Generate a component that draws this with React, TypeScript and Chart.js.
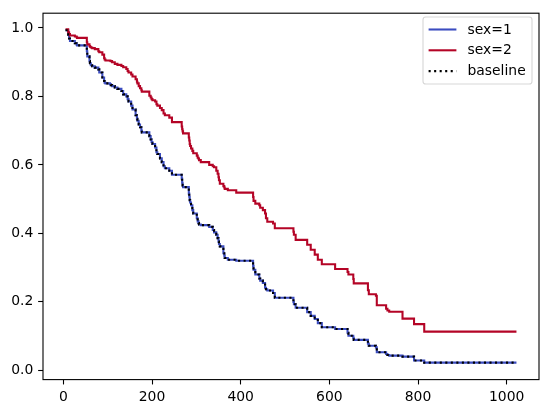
import React, { useEffect, useRef } from 'react';
import { Chart, registerables } from 'chart.js';

Chart.register(...registerables);

// Step times (days)
const times = [
  5, 11, 13, 15, 26, 30, 31, 53, 54, 59, 60, 62, 65, 71, 79, 81, 88, 92, 93, 95,
  105, 107, 110, 116, 122, 131, 135, 142, 145, 147, 153, 156, 163, 166, 167, 170, 173, 176, 177, 194,
  197, 199, 201, 207, 210, 212, 218, 222, 226, 229, 239, 245, 267, 268, 269, 270, 283, 284, 285, 286,
  288, 291, 293, 301, 303, 305, 306, 310, 329, 337, 340, 345, 348, 350, 351, 353, 361, 363, 364, 371,
  390, 428, 429, 433, 442, 444, 450, 455, 457, 460, 473, 477, 519, 520, 524, 550, 558, 567, 574, 583,
  613, 641, 643, 654, 655, 687, 689, 705, 707, 728, 731, 735, 765, 791, 814, 1022,
];

// sex=1 (also the baseline curve)
const sex1 = [
  0.993, 0.980, 0.969, 0.962, 0.955, 0.951, 0.949, 0.932, 0.917, 0.903, 0.897, 0.891, 0.888, 0.884, 0.879, 0.870, 0.855, 0.845, 0.840, 0.838,
  0.836, 0.833, 0.830, 0.826, 0.822, 0.816, 0.806, 0.800, 0.792, 0.785, 0.773, 0.762, 0.745, 0.735, 0.729, 0.718, 0.710, 0.700, 0.695, 0.684,
  0.674, 0.667, 0.661, 0.651, 0.637, 0.632, 0.619, 0.608, 0.596, 0.590, 0.583, 0.571, 0.560, 0.548, 0.540, 0.535, 0.516, 0.507, 0.497, 0.490,
  0.482, 0.468, 0.458, 0.444, 0.435, 0.430, 0.426, 0.424, 0.419, 0.410, 0.403, 0.396, 0.386, 0.376, 0.369, 0.362, 0.342, 0.335, 0.328, 0.323,
  0.320, 0.305, 0.294, 0.280, 0.268, 0.262, 0.255, 0.241, 0.237, 0.233, 0.226, 0.212, 0.200, 0.193, 0.183, 0.170, 0.159, 0.150, 0.138, 0.126,
  0.121, 0.110, 0.101, 0.095, 0.089, 0.078, 0.072, 0.067, 0.053, 0.048, 0.045, 0.043, 0.040, 0.029, 0.0225, 0.0225,
];

// sex=2
const sex2 = [
  0.996, 0.987, 0.982, 0.978, 0.975, 0.973, 0.971, 0.958, 0.952, 0.947, 0.945, 0.943, 0.941, 0.938, 0.932, 0.929, 0.922, 0.912, 0.908, 0.905,
  0.904, 0.903, 0.900, 0.895, 0.892, 0.889, 0.885, 0.880, 0.874, 0.870, 0.864, 0.858, 0.850, 0.843, 0.838, 0.830, 0.824, 0.818, 0.814, 0.802,
  0.797, 0.792, 0.789, 0.785, 0.777, 0.773, 0.766, 0.760, 0.750, 0.745, 0.738, 0.725, 0.712, 0.704, 0.698, 0.692, 0.680, 0.671, 0.661, 0.655,
  0.648, 0.641, 0.634, 0.627, 0.621, 0.618, 0.614, 0.608, 0.600, 0.596, 0.593, 0.583, 0.574, 0.564, 0.555, 0.545, 0.538, 0.534, 0.530, 0.526,
  0.519, 0.506, 0.495, 0.487, 0.482, 0.475, 0.468, 0.458, 0.444, 0.434, 0.429, 0.415, 0.405, 0.396, 0.381, 0.367, 0.352, 0.338, 0.323, 0.310,
  0.296, 0.287, 0.280, 0.267, 0.254, 0.234, 0.222, 0.218, 0.190, 0.180, 0.175, 0.171, 0.151, 0.135, 0.113, 0.113,
];

const xTicks = [0, 200, 400, 600, 800, 1000];
const yTicks = [0, 0.2, 0.4, 0.6, 0.8, 1.0];
const legendLabels = ['sex=1', 'sex=2', 'baseline'];

const BLUE = '#3b4cc0';
const RED = '#b40426';
const FONT = "'DejaVu Sans', sans-serif";
const LW = 2.08;
const DOT = [2.08, 3.44];

const framePlugin = {
  id: 'frameAndLegend',
  afterDraw(chart: any) {
    const { ctx, chartArea } = chart;
    const { left, right, top, bottom } = chartArea;
    ctx.save();
    // spines
    ctx.strokeStyle = '#000';
    ctx.lineWidth = 1.1;
    ctx.strokeRect(left, top, right - left, bottom - top);

    // legend
    const bx = 423, by = 17, bw = 109, bh = 67, r = 2.8;
    ctx.beginPath();
    ctx.moveTo(bx + r, by);
    ctx.lineTo(bx + bw - r, by);
    ctx.quadraticCurveTo(bx + bw, by, bx + bw, by + r);
    ctx.lineTo(bx + bw, by + bh - r);
    ctx.quadraticCurveTo(bx + bw, by + bh, bx + bw - r, by + bh);
    ctx.lineTo(bx + r, by + bh);
    ctx.quadraticCurveTo(bx, by + bh, bx, by + bh - r);
    ctx.lineTo(bx, by + r);
    ctx.quadraticCurveTo(bx, by, bx + r, by);
    ctx.closePath();
    ctx.fillStyle = 'rgba(255,255,255,0.8)';
    ctx.fill();
    ctx.strokeStyle = 'rgba(204,204,204,0.8)';
    ctx.lineWidth = 1.1;
    ctx.stroke();

    const rows = [29.5, 50.3, 71.1];
    const colors = [BLUE, RED, '#000'];
    const hx0 = 428.6, hx1 = 456.4, tx = 467.5;
    rows.forEach((ry, i) => {
      ctx.beginPath();
      ctx.strokeStyle = colors[i];
      ctx.lineWidth = LW;
      ctx.setLineDash(i === 2 ? DOT : []);
      ctx.moveTo(hx0, ry);
      ctx.lineTo(hx1, ry);
      ctx.stroke();
      ctx.setLineDash([]);
      ctx.fillStyle = '#000';
      ctx.font = `13.9px ${FONT}`;
      ctx.textAlign = 'left';
      ctx.textBaseline = 'middle';
      ctx.fillText(legendLabels[i], tx, ry + 0.5);
    });
    ctx.restore();
  },
};

export default function App() {
  const ref = useRef<HTMLCanvasElement>(null);

  useEffect(() => {
    const canvas = ref.current;
    if (!canvas) return;
    const pts = (ys: number[]) => times.map((t, i) => ({ x: t, y: ys[i] }));
    const common = {
      borderWidth: LW,
      stepped: true as const,
      pointRadius: 0,
      pointHoverRadius: 0,
      fill: false,
      tension: 0,
    };
    const chart = new Chart(canvas, {
      type: 'line',
      data: {
        datasets: [
          { ...common, label: 'baseline', data: pts(sex1), borderColor: '#000', borderDash: DOT },
          { ...common, label: 'sex=2', data: pts(sex2), borderColor: RED },
          { ...common, label: 'sex=1', data: pts(sex1), borderColor: BLUE },
        ],
      },
      options: {
        animation: false,
        responsive: false,
        maintainAspectRatio: false,
        layout: { padding: { top: 10, right: 8, left: 0, bottom: 0 } },
        plugins: { legend: { display: false }, tooltip: { enabled: false } },
        events: [],
        scales: {
          x: {
            type: 'linear',
            min: -45.85,
            max: 1072.85,
            afterBuildTicks: (s: any) => {
              s.ticks = xTicks.map((v) => ({ value: v }));
            },
            afterFit: (s: any) => {
              s.height = 33.4;
            },
            grid: { drawOnChartArea: false, drawTicks: true, tickLength: 4.86, tickWidth: 1.1, tickColor: '#000' },
            border: { display: false },
            ticks: {
              color: '#000',
              font: { family: FONT, size: 13.9 },
              padding: 4.86,
              maxRotation: 0,
              autoSkip: false,
              callback: (v: any) => String(v),
            },
          },
          y: {
            type: 'linear',
            min: -0.027,
            max: 1.043,
            afterBuildTicks: (s: any) => {
              s.ticks = yTicks.map((v) => ({ value: v }));
            },
            afterFit: (s: any) => {
              s.width = 43;
            },
            grid: { drawOnChartArea: false, drawTicks: true, tickLength: 4.86, tickWidth: 1.1, tickColor: '#000' },
            border: { display: false },
            ticks: {
              color: '#000',
              font: { family: FONT, size: 13.9 },
              padding: 4.86,
              autoSkip: false,
              callback: (v: any) => Number(v).toFixed(1),
            },
          },
        },
      },
      plugins: [framePlugin],
    });
    return () => chart.destroy();
  }, []);

  return (
    <div style={{ position: 'absolute', left: 0, top: 0, width: 547, height: 413, background: '#fff' }}>
      <canvas ref={ref} width={547} height={413} style={{ width: 547, height: 413, display: 'block' }} />
    </div>
  );
}
